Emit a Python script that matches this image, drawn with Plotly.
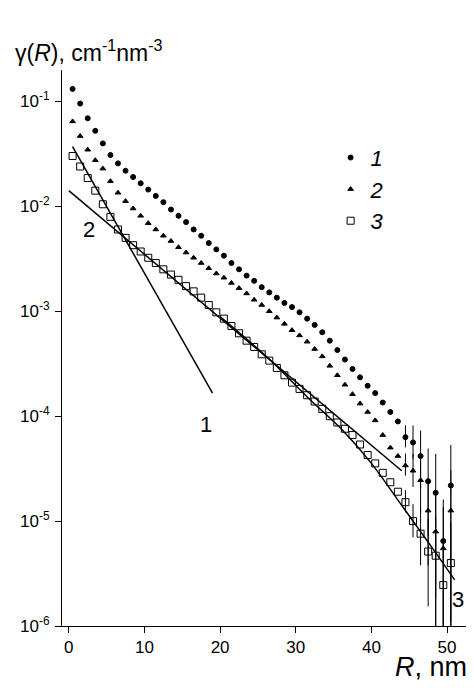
import plotly.graph_objects as go

R = [0.5 + k for k in range(51)]
log_g1 = [-0.88, -1.02, -1.16, -1.28, -1.40, -1.51, -1.59, -1.66, -1.72, -1.78,
          -1.84, -1.90, -1.96, -2.03, -2.09, -2.15, -2.22, -2.28, -2.35, -2.41,
          -2.47, -2.54, -2.60, -2.66, -2.71, -2.77, -2.82, -2.87, -2.92, -2.96,
          -3.01, -3.07, -3.13, -3.20, -3.28, -3.37, -3.46, -3.55, -3.63, -3.71,
          -3.78, -3.87, -3.96, -4.05, -4.20, -4.25, -4.38, -4.62, -4.73, -5.19, -4.66]
log_g2 = [-1.19, -1.33, -1.46, -1.56, -1.64, -1.76, -1.87, -1.95, -2.02, -2.09,
          -2.16, -2.22, -2.28, -2.33, -2.39, -2.44, -2.49, -2.54, -2.59, -2.64,
          -2.68, -2.73, -2.78, -2.83, -2.89, -2.94, -3.00, -3.06, -3.12, -3.18,
          -3.23, -3.29, -3.36, -3.43, -3.52, -3.61, -3.70, -3.79, -3.88, -3.96,
          -4.04, -4.18, -4.30, -4.38, -4.47, -4.52, -4.61, -4.90, -5.10, -5.26, -4.90]
log_g3 = [-1.52, -1.62, -1.73, -1.85, -1.98, -2.10, -2.22, -2.30, -2.37, -2.43,
          -2.49, -2.54, -2.60, -2.65, -2.70, -2.76, -2.81, -2.87, -2.94, -3.01,
          -3.07, -3.14, -3.21, -3.28, -3.34, -3.41, -3.47, -3.54, -3.61, -3.68,
          -3.74, -3.80, -3.86, -3.93, -4.00, -4.06, -4.12, -4.18, -4.27, -4.37,
          -4.45, -4.54, -4.63, -4.72, -4.82, -5.00, -5.12, -5.29, -5.33, -5.61, -5.40]

# relative error (fraction) for tail points, 0 elsewhere
err_frac = [0.0] * 44 + [0.2, 0.3, 0.5, 0.7, 0.9, 0.99, 0.95]

fit1_R = [0.5, 19.0]
fit1_log = [-1.43, -3.78]
fit2_R = [0.0, 44.0]
fit2_log = [-1.85, -4.52]
fit3_R = [20, 26.4, 32, 36, 40, 44, 48, 51]
fit3_log = [-3.05, -3.45, -3.85, -4.12, -4.45, -4.85, -5.25, -5.56]

font = "Liberation Sans, Arial, sans-serif"
fig = go.Figure()

series = [("1", log_g1, "circle", 5), ("2", log_g2, "triangle-up", 5),
          ("3", log_g3, "square-open", 7)]
for name, lg, sym, size in series:
    yv = [10 ** v for v in lg]
    fig.add_trace(go.Scatter(
        x=R, y=yv, mode="markers", name="<i>" + name + "</i>",
        marker=dict(symbol=sym, size=size, color="black", line=dict(width=1, color="black")),
        error_y=dict(type="data", array=[y * e * 1.5 for y, e in zip(yv, err_frac)],
                     arrayminus=[y * e for y, e in zip(yv, err_frac)],
                     color="black", thickness=1, width=0)))

for xs, ls in [(fit1_R, fit1_log), (fit2_R, fit2_log), (fit3_R, fit3_log)]:
    fig.add_trace(go.Scatter(x=xs, y=[10 ** v for v in ls], mode="lines",
                             line=dict(color="black", width=1.5, shape="spline"),
                             showlegend=False))

for txt, xa, la in [("2", 2.7, -2.22), ("1", 18.2, -4.08), ("3", 51.4, -5.75)]:
    fig.add_annotation(x=xa, y=la, text=txt, showarrow=False,
                       font=dict(size=22, color="black", family=font))

fig.add_annotation(xref="paper", yref="paper", x=-0.12, y=1.065, xanchor="left",
                   text="γ(<i>R</i>), cm<sup>-1</sup>nm<sup>-3</sup>", showarrow=False,
                   font=dict(size=23, color="black", family=font))
fig.add_annotation(xref="paper", yref="paper", x=1.0, y=-0.105, xanchor="right",
                   text="<i>R</i>, nm", showarrow=False,
                   font=dict(size=27, color="black", family=font))

yt = [1e-6, 1e-5, 1e-4, 1e-3, 1e-2, 1e-1]
fig.update_layout(
    width=474, height=693, plot_bgcolor="white", paper_bgcolor="white",
    margin=dict(l=52, r=13, t=62, b=75),
    font=dict(family=font, color="black", size=17),
    legend=dict(x=0.66, y=0.88, xanchor="left", yanchor="top", bgcolor="rgba(0,0,0,0)",
                font=dict(size=22), itemwidth=30, tracegroupgap=0),
    xaxis=dict(range=[-0.9, 52.9], tickvals=[0, 10, 20, 30, 40, 50], showgrid=False,
               zeroline=False, showline=True, linecolor="black", ticks="outside",
               ticklen=6, tickcolor="black"),
    yaxis=dict(type="log", range=[-6, -0.70], tickvals=yt,
               ticktext=["10<sup>-6</sup>", "10<sup>-5</sup>", "10<sup>-4</sup>",
                         "10<sup>-3</sup>", "10<sup>-2</sup>", "10<sup>-1</sup>"],
               showgrid=False, zeroline=False, showline=True, linecolor="black",
               ticks="outside", ticklen=6, tickcolor="black", ticklabelstandoff=2),
)
fig.write_html("out.html")
